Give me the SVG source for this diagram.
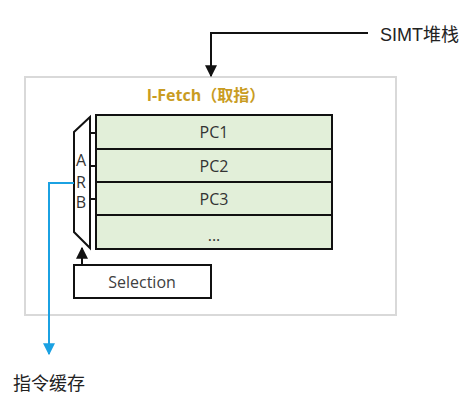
<svg xmlns="http://www.w3.org/2000/svg" width="474" height="405" viewBox="0 0 474 405">
<style>
.t{font-family:"Liberation Sans","Noto Sans CJK SC",sans-serif;fill:#222}
.row{fill:#e2efd9;stroke:#111;stroke-width:2}
.pc{font-family:"Open Sans","Liberation Sans",sans-serif;font-size:16px;fill:#333;text-anchor:middle}
</style>
<defs>
<marker id="ab" viewBox="0 0 10 10" refX="9" refY="5" markerWidth="6" markerHeight="6" orient="auto"><path d="M0,0L10,5L0,10z" fill="#111"/></marker>
<marker id="ablue" viewBox="0 0 10 10" refX="9" refY="5" markerWidth="6" markerHeight="6" orient="auto"><path d="M0,0L10,5L0,10z" fill="#1ba1e2"/></marker>
</defs>
<rect width="474" height="405" fill="#fff"/>
<g id="ifetch">
<rect x="25" y="77" width="371" height="238" fill="#fff" stroke="#d9d9d9" stroke-width="2"/>
<text x="206" y="101" font-family="Open Sans,Liberation Sans,Noto Sans CJK SC,sans-serif" font-size="16" font-weight="bold" fill="#c99c22" text-anchor="middle">I-Fetch（取指）</text>
</g>
<g id="pc-table">
<rect class="row" x="96" y="115" width="236" height="34"/>
<rect class="row" x="96" y="149" width="236" height="33"/>
<rect class="row" x="96" y="182" width="236" height="33"/>
<rect class="row" x="96" y="215" width="236" height="34"/>
<text class="pc" x="214" y="138">PC1</text>
<text class="pc" x="214" y="172">PC2</text>
<text class="pc" x="214" y="205">PC3</text>
<text class="pc" x="214" y="241">...</text>
</g>
<g id="arb">
<path d="M90,117 L74,132 L74,232 L90,248 Z" fill="#fff" stroke="#111" stroke-width="2"/>
<text x="81" y="166" class="pc">A</text>
<text x="81" y="188" class="pc">R</text>
<text x="81" y="208" class="pc">B</text>
</g>
<g id="selection">
<rect x="74" y="265" width="137" height="33" fill="#fff" stroke="#111" stroke-width="2"/>
<text class="pc" x="142" y="288" style="fill:#404040">Selection</text>
</g>
<g id="connectors" fill="none">
<path d="M90,133 H96 M90,166 H96 M90,199 H96" stroke="#111" stroke-width="2"/>
<path d="M368,33 H211 V76" stroke="#111" stroke-width="2" marker-end="url(#ab)"/>
<path d="M82,265 V248" stroke="#111" stroke-width="2" marker-end="url(#ab)"/>
<path d="M74,183 H49 V354" stroke="#1ba1e2" stroke-width="2" marker-end="url(#ablue)"/>
</g>
<g id="labels">
<text class="t" x="380" y="41" font-size="18">SIMT堆栈</text>
<text class="t" x="13" y="390" font-size="18">指令缓存</text>
</g>
</svg>
